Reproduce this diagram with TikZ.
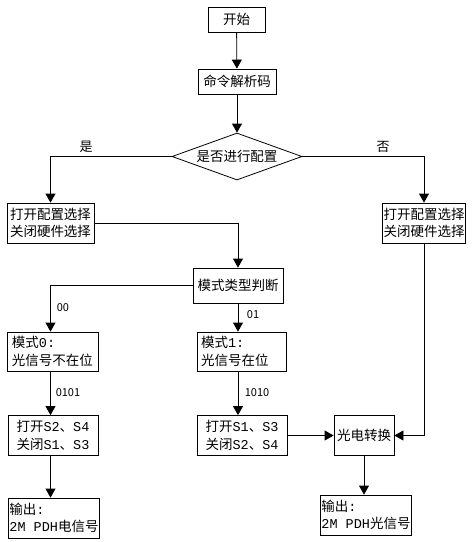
\documentclass[tikz,border=0pt]{standalone}
\usepackage{fontspec}
\setmainfont{Noto Sans CJK SC}
\newfontfamily\monof{Liberation Mono}
\usetikzlibrary{shapes.geometric,arrows.meta}
\begin{document}
\begin{tikzpicture}[x=1pt,y=-1pt,
  font=\fontsize{13.5}{17.5}\selectfont,
  box/.style={draw, line width=0.8pt, inner sep=1pt, rectangle},
  arr/.style={line width=0.8pt, -{Triangle[width=10pt,length=9pt]}},
  lab/.style={font=\fontsize{11}{13}\selectfont, inner sep=0pt}]
\useasboundingbox (0,0) rectangle (474,542);
\node[box, minimum width=57pt, minimum height=25pt] (start) at (236.5,19.5) {开始};
\node[box, minimum width=78pt, minimum height=25pt] (cmd) at (237,81.5) {命令解析码};
\node[draw, line width=0.8pt, diamond, shape aspect=2.77, inner sep=0pt,
      minimum width=130pt, minimum height=47pt] (dec) at (237,156.5) {是否进行配置};
\node[box, minimum width=87pt, minimum height=40pt, align=left] (cfgL) at (50.5,223) {打开配置选择\\关闭硬件选择};
\node[box, minimum width=82pt, minimum height=40pt, align=left] (cfgR) at (424,223) {打开配置选择\\关闭硬件选择};
\node[box, minimum width=90pt, minimum height=35pt] (judge) at (238,285.5) {模式类型判断};
\node[box, minimum width=91pt, minimum height=39pt, align=left] (m0) at (52.5,351.5) {模式{\monof 0:}\\光信号不在位};
\node[box, minimum width=89pt, minimum height=39pt, align=left] (m1) at (241.5,351.5) {模式{\monof 1:}\phantom{不}\\光信号在位\phantom{不}};
\node[box, minimum width=90pt, minimum height=40pt, align=center] (s2) at (53,435.5) {打开{\monof S2}、{\monof S4}\\关闭{\monof S1}、{\monof S3}};
\node[box, minimum width=90pt, minimum height=40pt, align=center] (s1) at (242,435.5) {打开{\monof S1}、{\monof S3}\\关闭{\monof S2}、{\monof S4}};
\node[box, minimum width=60pt, minimum height=40pt] (pe) at (364,435.5) {光电转换};
\node[box, minimum width=90pt, minimum height=40pt, align=left] (outL) at (54,518) {输出{\monof :}\\{\monof 2M PDH}电信号};
\node[box, minimum width=90pt, minimum height=40pt, align=left] (outR) at (366,515) {输出{\monof :}\\{\monof 2M PDH}光信号};
\node[lab, font=\fontsize{13}{15}\selectfont] (lyes) at (86,147) {是};
\node[lab, font=\fontsize{13}{15}\selectfont] (lno) at (383,147) {否};
\node[lab] (l00) at (63,308) {00};
\node[lab] (l01) at (253,315) {01};
\node[lab] (l0101) at (68,393) {0101};
\node[lab] (l1010) at (257,393) {1010};
\draw[arr] (start) -- (cmd);
\draw[arr] (cmd) -- (dec);
\draw[arr] (dec.west) -| (cfgL.north);
\draw[arr] (dec.east) -| (cfgR.north);
\draw[arr] (cfgL.east) -| (judge.north);
\draw[arr] (judge.west) -| (cfgL.south |- m0.north);
\draw[arr] (judge.south) -- (judge.south |- m1.north);
\draw[arr] (m0.south -| cfgL.south) -- (cfgL.south |- s2.north);
\draw[arr] (m1.south -| judge.south) -- (judge.south |- s1.north);
\draw[arr] (s2.south -| cfgL.south) -- (cfgL.south |- outL.north);
\draw[arr] (s1.east) -- (pe.west);
\draw[arr] (cfgR.south) |- (pe.east);
\draw[arr] (pe.south) -- (pe.south |- outR.north);
\end{tikzpicture}
\end{document}
